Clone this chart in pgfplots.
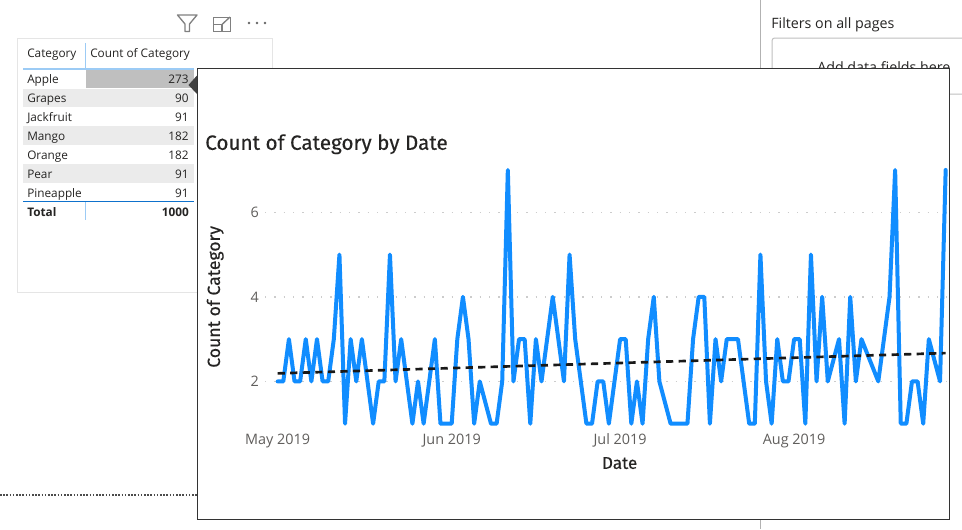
\documentclass[border=0pt]{standalone}
\usepackage{fontspec}
\usepackage{pgfplots}
\pgfplotsset{compat=1.18}
\setmainfont{Open Sans}
\newfontfamily\din[FakeBold=0.3]{Fira Sans}
\definecolor{tick}{HTML}{605E5C}
\definecolor{ink}{HTML}{252423}
\definecolor{pbi}{HTML}{118DFF}
\definecolor{hdr}{HTML}{9CCBF5}
\newcommand{\tc}[2]{\node[anchor=base west,font=\fontsize{8.85}{10}\selectfont,text=ink,inner sep=0pt] at (#1) {#2};}
\newcommand{\tr}[2]{\node[anchor=base east,font=\fontsize{8.85}{10}\selectfont,text=ink,inner sep=0pt] at (#1) {#2};}
\begin{document}
\begin{tikzpicture}[x=0.75pt,y=-0.75pt]
\path[use as bounding box,fill=white] (0,0) rectangle (962,529);
% right pane
\draw[color=black!30,line width=0.75pt] (760.5,0)--(760.5,529);
\node[anchor=base west,font=\fontsize{10.7}{12}\selectfont,text=ink,inner sep=0pt] at (771,28) {Filters on all pages};
\draw[color=black!25,line width=0.75pt,rounded corners=2pt] (962,38)--(772,38)--(772,94)--(962,94);
\node[anchor=base west,font=\fontsize{10.7}{12}\selectfont,text=ink,inner sep=0pt] at (817,72) {Add data fields here};
% dotted line
\draw[color=black!70,line width=1pt,dash pattern=on 1.2pt off 1.2pt] (0,495)--(197,495);
% table
\draw[color=black!10,line width=0.75pt] (17.5,38.5) rectangle (272.5,292.5);
\fill[color=black!8] (23,88.5) rectangle (194,107);
\fill[color=black!8] (23,126) rectangle (194,145);
\fill[color=black!8] (23,164) rectangle (194,183);
\fill[color=black!25] (86,69.5) rectangle (194,88);
\draw[color=hdr,line width=0.75pt] (85.5,43)--(85.5,68);
\draw[color=hdr,line width=1pt] (23,69)--(194,69);
\draw[color=pbi!80!black,line width=0.75pt] (23,201.5)--(194,201.5);
\draw[color=hdr,line width=0.75pt] (85.5,202)--(85.5,220);
\tc{27,57}{Category}\tc{90,57}{Count of Category}
\tc{27,83}{Apple}\tr{189,83}{273}
\tc{27,102}{Grapes}\tr{189,102}{90}
\tc{27,121}{Jackfruit}\tr{189,121}{91}
\tc{27,140}{Mango}\tr{189,140}{182}
\tc{27,159}{Orange}\tr{189,159}{182}
\tc{27,178}{Pear}\tr{189,178}{91}
\tc{27,197}{Pineapple}\tr{189,197}{91}
\tc{27,216}{\bfseries Total}\tr{189,216}{\bfseries 1000}
% icons
\draw[color=black!50,line width=1pt,line join=round] (177.5,15)--(197,15)--(189.5,24)--(189.5,31.5)--(185,31.5)--(185,24)--cycle;
\draw[color=black!50,line width=1pt] (213.5,17.5) rectangle (230.5,31.5);
\draw[color=black!50,line width=1pt] (213.5,24.5)--(222,24.5)--(222,31.5);
\draw[color=black!50,line width=1pt] (222,24.5)--(230,17);
\fill[color=black!60] (249,23) circle (1.4) (257,23) circle (1.4) (265,23) circle (1.4);
% popup
\fill[color=white] (197.5,68.5) rectangle (949.5,519.5);
\draw[color=black!80,line width=0.85pt] (197.5,68.5) rectangle (949.5,519.5);
\fill[color=black!75] (188.5,85)--(197,75.5)--(197,94)--cycle;
\begin{axis}[
  at={(198.75pt,-317.775pt)},anchor=south west,
  scale only axis,width=511.5pt,height=190.3pt,
  xmin=-2.26,xmax=119.24,ymin=1,ymax=7,clip=false,
  axis line style={draw=none},
  major tick length=0pt,
  xtick={0,31,61,92},
  xticklabels={May 2019,Jun 2019,Jul 2019,Aug 2019},
  ytick={2,4,6},
  ymajorgrids,
  grid style={color=black!20,line width=1pt,dash pattern=on 1pt off 6pt},
  tick label style={font=\fontsize{10.8}{12}\selectfont,text=tick},
  /pgf/number format/assume math mode=true,
  xticklabel style={yshift=-4pt},
  yticklabel style={xshift=-1pt},
  title={Count of Category by Date},
  title style={at={(axis description cs:-0.088,1.048)},anchor=base west,font=\din\fontsize{15.5}{17}\selectfont,text=ink,inner sep=0pt},
  xlabel={Date},
  xlabel style={at={(axis description cs:0.52,-0.178)},anchor=base,font=\din\fontsize{12.8}{14}\selectfont,text=ink,inner sep=0pt},
  ylabel={Count of Category},
  ylabel style={at={(axis description cs:-0.073,0.5)},anchor=center,font=\din\fontsize{13.2}{14}\selectfont,text=ink,inner sep=0pt},
]
\addplot[color=pbi,line width=3pt,line join=round,line cap=round] coordinates {
(0,2)(1,2)(2,3)(3,2)(4,2)(5,3)(6,2)(7,3)(8,2)(9,2)(10,3)(11,5)(12,1)(13,3)(14,2)(15,3)(16,2)(17,1)(18,2)(19,2)
(20,5)(21,2)(22,3)(23,2)(24,1)(25,2)(26,1)(27,2)(28,3)(29,1)(30,1)(31,1)(32,3)(33,4)(34,3)(35,1)(36,2)(38,1)(39,1)
(40,2)(41,7)(42,2)(43,3)(44,3)(45,1)(46,3)(47,2)(48,3)(49,4)(50,3)(51,2)(52,5)(53,3)(54,2)(55,1)(56,1)(57,2)(58,2)(59,1)
(60,2)(61,3)(62,3)(63,1)(64,2)(65,1)(66,3)(67,4)(68,2)(70,1)(71,1)(72,1)(73,1)(74,3)(75,4)(76,4)(77,1)(78,3)(79,2)
(80,3)(81,3)(82,3)(83,2)(84,1)(85,1)(86,5)(87,2)(88,1)(89,3)(90,2)(91,2)(92,3)(93,3)(94,1)(95,5)(96,2)(97,4)(98,2)
(100,3)(101,1)(102,4)(103,2)(104,3)(107,2)(109,4)(110,7)(111,1)(112,1)(113,2)(114,2)(115,1)(116,3)(118,2)(119,7)
};
\addplot[color=black!90,line width=2pt,dash pattern=on 5.4pt off 4pt] coordinates {(0,2.19)(119,2.67)};
\end{axis}
\end{tikzpicture}
\end{document}
